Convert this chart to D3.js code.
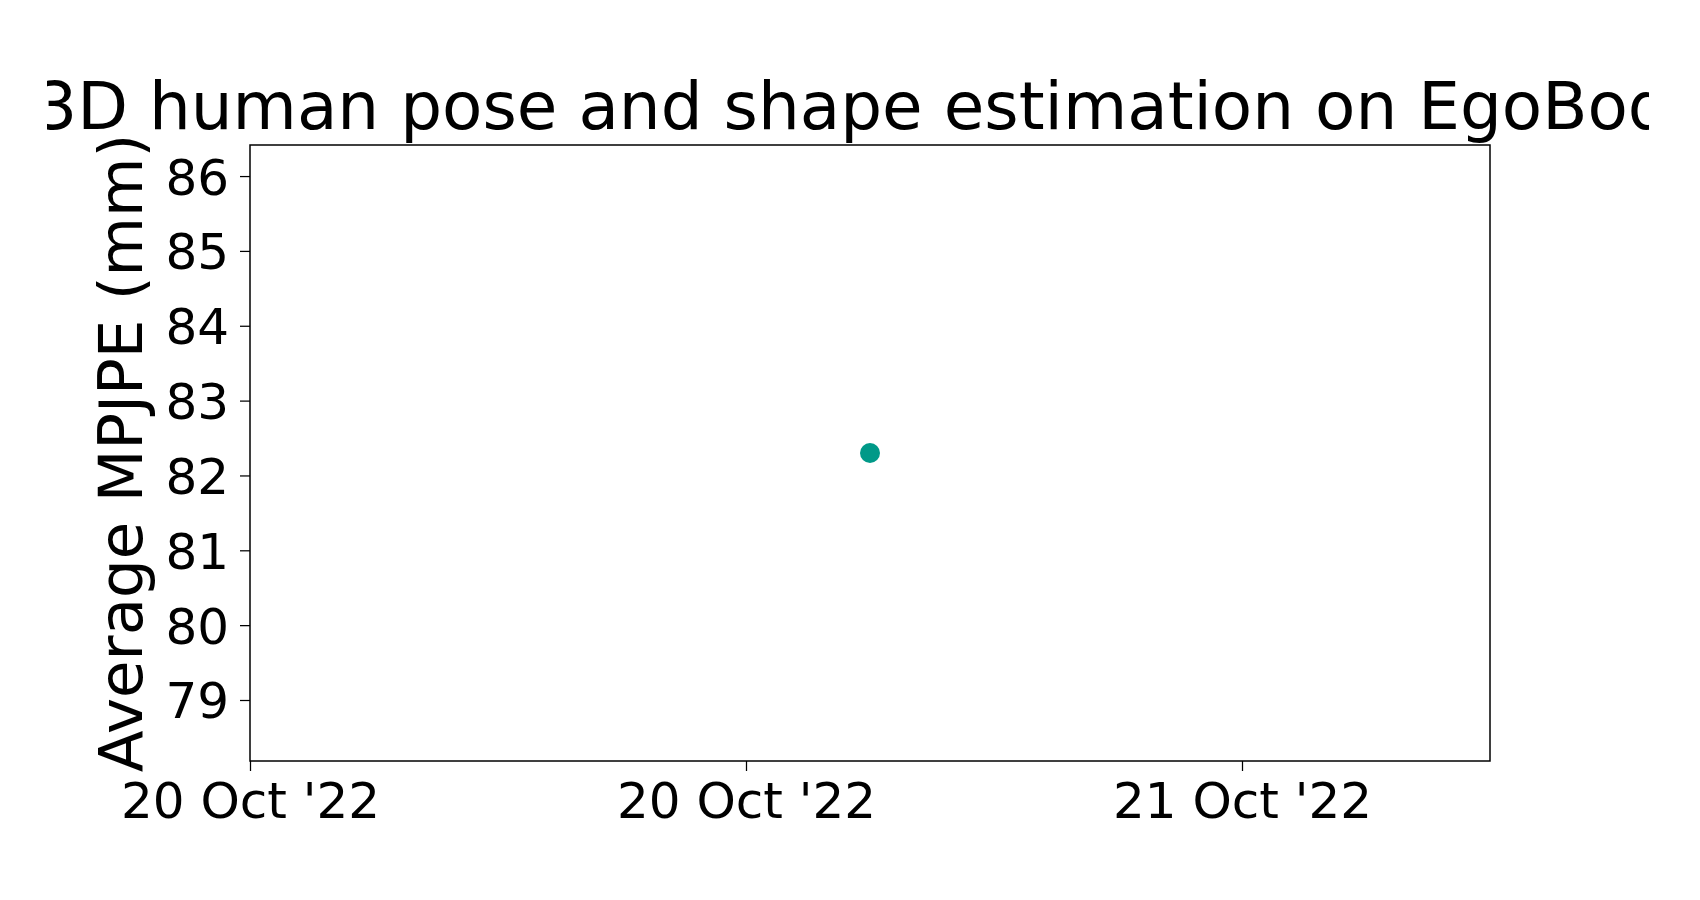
<!DOCTYPE html>
<html>
<head>
<meta charset="UTF-8">
<title>3D human pose and shape estimation on EgoBody</title>
<style>
  body { margin: 0; background: #fff; }
  svg { display: block; font-family: "DejaVu Sans", sans-serif; }
</style>
</head>
<body>
<svg></svg>
<script src="https://d3js.org/d3.v7.min.js"></script>
<script>

// data
let dates = ["2022-10-20T15:00:00"];
let mpjpe = [82.3];
let yTicks = [79, 80, 81, 82, 83, 84, 85, 86];
let xTicks = ["2022-10-20T00:00:00", "2022-10-20T12:00:00", "2022-10-21T00:00:00"];
let xDomain = ["2022-10-20T00:00:00", "2022-10-21T06:00:00"];
let yDomain = [78.185, 86.415];
let title = "3D human pose and shape estimation on EgoBody";
let yLabel = "Average MPJPE (mm)";

let width = 1700, height = 900;
let plotLeft = 250, plotRight = 1490, plotTop = 145, plotBottom = 761;

let svg = d3.select("svg")
    .attr("width", width)
    .attr("height", height);

let x = d3.scaleTime()
    .domain(xDomain.map(d => new Date(d)))
    .range([plotLeft, plotRight]);

let y = d3.scaleLinear()
    .domain(yDomain)
    .range([plotBottom, plotTop]);

// title, cropped at both ends like the original
svg.append("clipPath")
    .attr("id", "titleclip")
    .append("rect")
    .attr("x", 47).attr("y", 0)
    .attr("width", 1602).attr("height", 145);

svg.append("text")
    .attr("clip-path", "url(#titleclip)")
    .attr("x", (plotLeft + plotRight) / 2 + 2)
    .attr("y", 129)
    .attr("text-anchor", "middle")
    .attr("font-size", 66)
    .attr("fill", "#000")
    .text(title);

// axes
let fmt = d3.timeFormat("%d %b '%y");

let xAxis = svg.append("g")
    .attr("transform", "translate(0," + plotBottom + ")")
    .call(d3.axisBottom(x)
        .tickValues(xTicks.map(d => new Date(d)))
        .tickFormat(fmt)
        .tickSize(10)
        .tickPadding(11));

let yAxis = svg.append("g")
    .attr("transform", "translate(" + plotLeft + ",0)")
    .call(d3.axisLeft(y)
        .tickValues(yTicks)
        .tickFormat(d3.format("d"))
        .tickSize(10)
        .tickPadding(11));

[xAxis, yAxis].forEach(g => {
    g.select(".domain").remove();
    g.selectAll(".tick line").attr("stroke", "#000").attr("stroke-width", 1.25);
    g.selectAll(".tick text")
        .attr("font-family", "DejaVu Sans")
        .attr("font-size", 50)
        .attr("fill", "#000");
});
xAxis.selectAll(".tick text").attr("dy", "0.71em");
yAxis.selectAll(".tick text").attr("dy", "0.36em");

// frame
svg.append("rect")
    .attr("x", plotLeft).attr("y", plotTop)
    .attr("width", plotRight - plotLeft).attr("height", plotBottom - plotTop)
    .attr("fill", "none")
    .attr("stroke", "#000")
    .attr("stroke-width", 1.5);

// y label
svg.append("text")
    .attr("transform", "translate(142," + (plotTop + plotBottom) / 2 + ") rotate(-90)")
    .attr("text-anchor", "middle")
    .attr("font-size", 61)
    .attr("fill", "#000")
    .text(yLabel);

// points
svg.append("g")
    .selectAll("circle")
    .data(dates.map((d, i) => ({date: new Date(d), value: mpjpe[i]})))
    .enter()
    .append("circle")
    .attr("cx", d => x(d.date))
    .attr("cy", d => y(d.value))
    .attr("r", 10)
    .attr("fill", "#009988");

</script>
</body>
</html>
